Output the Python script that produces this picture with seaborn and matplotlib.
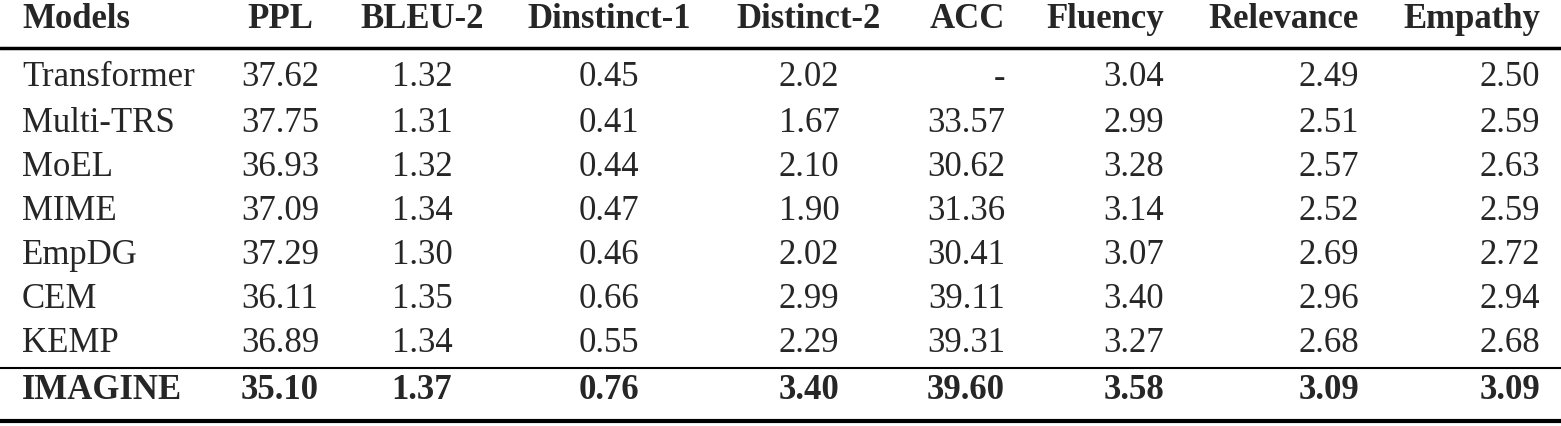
import matplotlib.pyplot as plt
import seaborn as sns

sns.set_theme(style="white")
plt.rcParams['font.family'] = ['Liberation Serif', 'DejaVu Serif']

headers = ["Models", "PPL", "BLEU-2", "Dinstinct-1", "Distinct-2", "ACC",
           "Fluency", "Relevance", "Empathy"]
models = ["Transformer", "Multi-TRS", "MoEL", "MIME", "EmpDG", "CEM", "KEMP", "IMAGINE"]
ppl = ["37.62", "37.75", "36.93", "37.09", "37.29", "36.11", "36.89", "35.10"]
bleu2 = ["1.32", "1.31", "1.32", "1.34", "1.30", "1.35", "1.34", "1.37"]
dist1 = ["0.45", "0.41", "0.44", "0.47", "0.46", "0.66", "0.55", "0.76"]
dist2 = ["2.02", "1.67", "2.10", "1.90", "2.02", "2.99", "2.29", "3.40"]
acc = ["-", "33.57", "30.62", "31.36", "30.41", "39.11", "39.31", "39.60"]
fluency = ["3.04", "2.99", "3.28", "3.14", "3.07", "3.40", "3.27", "3.58"]
relevance = ["2.49", "2.51", "2.57", "2.52", "2.69", "2.96", "2.68", "3.09"]
empathy = ["2.50", "2.59", "2.63", "2.59", "2.72", "2.94", "2.68", "3.09"]

columns = [ppl, bleu2, dist1, dist2, acc, fluency, relevance, empathy]
# anchor x and alignment for each numeric column (pixels)
col_x = [280, 422, 609, 809, 1005, 1164, 1359, 1540]
col_ha = ["center", "center", "center", "center", "right", "right", "right", "right"]
row_y = [78, 123, 168, 212, 256, 300, 344, 391]

W, H = 1561, 427
fig = plt.figure(figsize=(W / 100, H / 100), dpi=100)
ax = fig.add_axes([0, 0, 1, 1])
ax.set_xlim(0, W)
ax.set_ylim(H, 0)
ax.axis("off")

fs = 25
ax.text(22, 20, headers[0], ha="left", va="center", fontsize=fs, fontweight="bold")
for h, x, ha in zip(headers[1:], col_x, col_ha):
    ax.text(x, 20, h, ha=ha, va="center", fontsize=fs, fontweight="bold")

for i, m in enumerate(models):
    bold = "bold" if m == "IMAGINE" else "normal"
    ax.text(22, row_y[i], m, ha="left", va="center", fontsize=fs, fontweight=bold)
    for col, x, ha in zip(columns, col_x, col_ha):
        ax.text(x, row_y[i], col[i], ha=ha, va="center", fontsize=fs, fontweight=bold)

ax.plot([0, W], [49, 49], color="black", lw=2.5)
ax.plot([0, W], [369, 369], color="black", lw=1.5)
ax.plot([0, W], [422, 422], color="black", lw=3)

fig.savefig("out.png", dpi=100)
